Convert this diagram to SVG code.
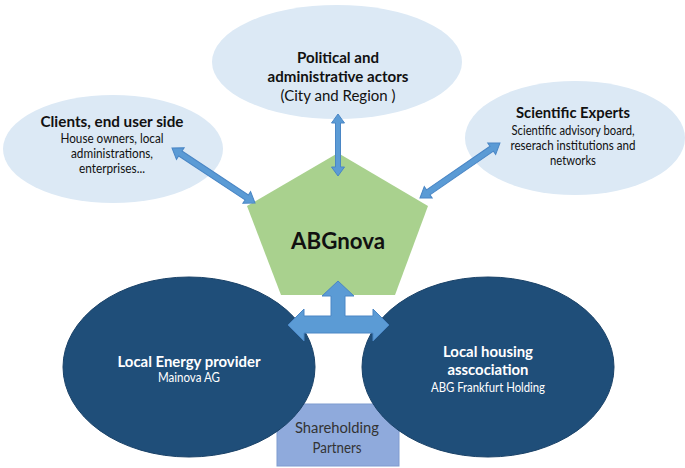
<svg xmlns="http://www.w3.org/2000/svg" width="685" height="468" viewBox="0 0 685 468">
<style>
text{font-family:Lato,"Liberation Sans",sans-serif;text-anchor:middle;fill:#111}
.t{font-weight:bold;font-size:15.5px}
.s{font-size:12.5px}
.w{fill:#fff}
.light{fill:#DCE9F5}
.dark{fill:#1F4E79;stroke:#1A4268;stroke-width:1}
.arr{fill:#5B9BD5;stroke:#4A86C5;stroke-width:1}
</style>
<rect width="685" height="468" fill="#fff"/>
<g id="shareholding">
<rect x="277" y="404" width="122" height="62" fill="#8FAADC" stroke="#7E9BD0"/>
<text x="337" y="433" style="font-size:15.5px;fill:#333" textLength="84" lengthAdjust="spacingAndGlyphs">Shareholding</text>
<text x="337" y="453" style="font-size:15.5px;fill:#333" textLength="49" lengthAdjust="spacingAndGlyphs">Partners</text>
</g>
<g id="clients">
<ellipse class="light" cx="113" cy="149" rx="110" ry="54"/>
<text class="t" x="112" y="127" textLength="143" lengthAdjust="spacingAndGlyphs">Clients, end user side</text>
<text class="s" x="112" y="143" textLength="103" lengthAdjust="spacingAndGlyphs">House owners, local</text>
<text class="s" x="112" y="158" textLength="82" lengthAdjust="spacingAndGlyphs">administrations,</text>
<text class="s" x="112" y="173" textLength="66" lengthAdjust="spacingAndGlyphs">enterprises...</text>
</g>
<g id="political">
<ellipse class="light" cx="337" cy="62" rx="125" ry="57"/>
<text class="t" x="338" y="63" textLength="82" lengthAdjust="spacingAndGlyphs">Political and</text>
<text class="t" x="338" y="82" textLength="141" lengthAdjust="spacingAndGlyphs">administrative actors</text>
<text x="338" y="101" style="font-size:14.5px" textLength="115" lengthAdjust="spacingAndGlyphs">(City and Region )</text>
</g>
<g id="scientific">
<ellipse class="light" cx="575" cy="138" rx="110" ry="57"/>
<text class="t" x="573" y="118" textLength="114" lengthAdjust="spacingAndGlyphs">Scientific Experts</text>
<text class="s" x="573" y="135" textLength="123" lengthAdjust="spacingAndGlyphs">Scientific advisory board,</text>
<text class="s" x="573" y="150" textLength="125" lengthAdjust="spacingAndGlyphs">reserach institutions and</text>
<text class="s" x="573" y="165" textLength="46" lengthAdjust="spacingAndGlyphs">networks</text>
</g>
<g id="energy">
<ellipse class="dark" cx="189" cy="367" rx="126" ry="90"/>
<text class="t w" x="189" y="367" textLength="143" lengthAdjust="spacingAndGlyphs">Local Energy provider</text>
<text class="w" x="189" y="382" style="font-size:12.5px" textLength="62" lengthAdjust="spacingAndGlyphs">Mainova AG</text>
</g>
<g id="housing">
<ellipse class="dark" cx="488" cy="367" rx="126" ry="90"/>
<text class="t w" x="488" y="357" textLength="90" lengthAdjust="spacingAndGlyphs">Local housing</text>
<text class="t w" x="488" y="375" textLength="81" lengthAdjust="spacingAndGlyphs">asscociation</text>
<text class="w" x="488" y="392" style="font-size:12.5px" textLength="114" lengthAdjust="spacingAndGlyphs">ABG Frankfurt Holding</text>
</g>
<g id="abgnova">
<polygon points="338,153 428,206 395,295 281,295 247,206" fill="#A9D18E"/>
<text x="338" y="249" style="font-weight:bold;font-size:23px" textLength="94" lengthAdjust="spacingAndGlyphs">ABGnova</text>
</g>
<g id="connectors">
<polygon class="arr" transform="translate(338,114) rotate(90)" points="0,0 9,-6.5 9,-2.5 53,-2.5 53,-6.5 62,0 53,6.5 53,2.5 9,2.5 9,6.5"/>
<polygon class="arr" transform="translate(172,148) rotate(33.5)" points="0,0 10,-7 10,-3 89.6,-3 89.6,-7 99.6,0 89.6,7 89.6,3 10,3 10,7"/>
<polygon class="arr" transform="translate(420,198) rotate(-34.5)" points="0,0 10,-7 10,-3 87,-3 87,-7 97,0 87,7 87,3 10,3 10,7"/>
<polygon class="arr" points="338,281 354,296 345,296 345,316 373,316 373,309 389,325 373,341 373,333 304,333 304,341 288,325 304,309 304,316 331,316 331,296 322,296"/>
</g>
</svg>
